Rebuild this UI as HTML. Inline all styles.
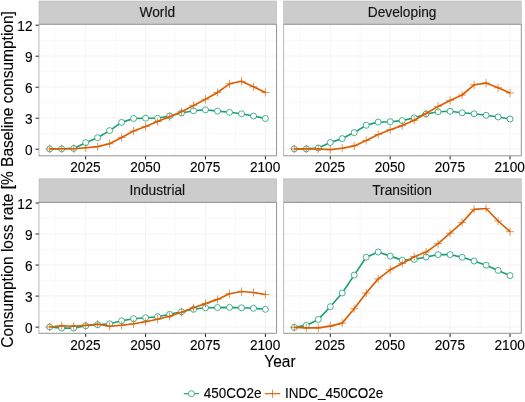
<!DOCTYPE html>
<html lang="en">
<head>
<meta charset="utf-8">
<title>Consumption loss rate</title>
<style>
html,body{margin:0;padding:0;background:#fff;}
body{width:525px;height:402px;overflow:hidden;}
svg{display:block;}
text{font-family:"Liberation Sans",Arial,Helvetica,sans-serif;fill:#000;stroke:#000;stroke-width:0.12px;}
.ax{font-size:13.65px;}
.ti{font-size:15.5px;}
.lg{font-size:13.5px;}
.st{font-size:13.75px;fill:#111;stroke:#111;}
</style>
</head>
<body>
<svg width="525" height="402" viewBox="0 0 525 402">
<rect x="0" y="0" width="525" height="402" fill="#ffffff"/>

<g>
<rect x="39.0" y="1.0" width="237.6" height="23.3" fill="#CCCCCC" stroke="#B0B0B0" stroke-width="0.5"/>
<text class="st" transform="translate(157.3 17.4) scale(1 1.04)" text-anchor="middle">World</text>
<rect x="39.0" y="24.3" width="237.6" height="131.5" fill="#ffffff"/>
<line x1="55.7" x2="55.7" y1="24.3" y2="155.8" stroke="#F4F4F4" stroke-width="0.55"/>
<line x1="115.6" x2="115.6" y1="24.3" y2="155.8" stroke="#F4F4F4" stroke-width="0.55"/>
<line x1="175.6" x2="175.6" y1="24.3" y2="155.8" stroke="#F4F4F4" stroke-width="0.55"/>
<line x1="235.5" x2="235.5" y1="24.3" y2="155.8" stroke="#F4F4F4" stroke-width="0.55"/>
<line x1="39.0" x2="276.6" y1="133.5" y2="133.5" stroke="#F4F4F4" stroke-width="0.55"/>
<line x1="39.0" x2="276.6" y1="102.5" y2="102.5" stroke="#F4F4F4" stroke-width="0.55"/>
<line x1="39.0" x2="276.6" y1="71.5" y2="71.5" stroke="#F4F4F4" stroke-width="0.55"/>
<line x1="39.0" x2="276.6" y1="40.5" y2="40.5" stroke="#F4F4F4" stroke-width="0.55"/>
<line x1="85.7" x2="85.7" y1="24.3" y2="155.8" stroke="#EEEEEE" stroke-width="0.65"/>
<line x1="145.6" x2="145.6" y1="24.3" y2="155.8" stroke="#EEEEEE" stroke-width="0.65"/>
<line x1="205.5" x2="205.5" y1="24.3" y2="155.8" stroke="#EEEEEE" stroke-width="0.65"/>
<line x1="265.4" x2="265.4" y1="24.3" y2="155.8" stroke="#EEEEEE" stroke-width="0.65"/>
<line x1="39.0" x2="276.6" y1="149.0" y2="149.0" stroke="#EEEEEE" stroke-width="0.65"/>
<line x1="39.0" x2="276.6" y1="118.0" y2="118.0" stroke="#EEEEEE" stroke-width="0.65"/>
<line x1="39.0" x2="276.6" y1="87.0" y2="87.0" stroke="#EEEEEE" stroke-width="0.65"/>
<line x1="39.0" x2="276.6" y1="56.0" y2="56.0" stroke="#EEEEEE" stroke-width="0.65"/>
<polyline points="49.7,148.9 61.7,148.9 73.7,148.4 85.7,142.7 97.6,137.7 109.6,130.6 121.6,122.4 133.6,118.5 145.6,118.2 157.6,118.3 169.6,116.0 181.5,113.0 193.5,110.8 205.5,109.8 217.5,111.1 229.5,112.3 241.5,113.8 253.5,116.0 265.4,118.5" fill="none" stroke="#1B9E77" stroke-width="1.65" stroke-linejoin="round" stroke-linecap="butt"/>
<circle cx="49.7" cy="148.9" r="3.0" fill="#ffffff" stroke="#1B9E77" stroke-width="0.8"/>
<circle cx="61.7" cy="148.9" r="3.0" fill="#ffffff" stroke="#1B9E77" stroke-width="0.8"/>
<circle cx="73.7" cy="148.4" r="3.0" fill="#ffffff" stroke="#1B9E77" stroke-width="0.8"/>
<circle cx="85.7" cy="142.7" r="3.0" fill="#ffffff" stroke="#1B9E77" stroke-width="0.8"/>
<circle cx="97.6" cy="137.7" r="3.0" fill="#ffffff" stroke="#1B9E77" stroke-width="0.8"/>
<circle cx="109.6" cy="130.6" r="3.0" fill="#ffffff" stroke="#1B9E77" stroke-width="0.8"/>
<circle cx="121.6" cy="122.4" r="3.0" fill="#ffffff" stroke="#1B9E77" stroke-width="0.8"/>
<circle cx="133.6" cy="118.5" r="3.0" fill="#ffffff" stroke="#1B9E77" stroke-width="0.8"/>
<circle cx="145.6" cy="118.2" r="3.0" fill="#ffffff" stroke="#1B9E77" stroke-width="0.8"/>
<circle cx="157.6" cy="118.3" r="3.0" fill="#ffffff" stroke="#1B9E77" stroke-width="0.8"/>
<circle cx="169.6" cy="116.0" r="3.0" fill="#ffffff" stroke="#1B9E77" stroke-width="0.8"/>
<circle cx="181.5" cy="113.0" r="3.0" fill="#ffffff" stroke="#1B9E77" stroke-width="0.8"/>
<circle cx="193.5" cy="110.8" r="3.0" fill="#ffffff" stroke="#1B9E77" stroke-width="0.8"/>
<circle cx="205.5" cy="109.8" r="3.0" fill="#ffffff" stroke="#1B9E77" stroke-width="0.8"/>
<circle cx="217.5" cy="111.1" r="3.0" fill="#ffffff" stroke="#1B9E77" stroke-width="0.8"/>
<circle cx="229.5" cy="112.3" r="3.0" fill="#ffffff" stroke="#1B9E77" stroke-width="0.8"/>
<circle cx="241.5" cy="113.8" r="3.0" fill="#ffffff" stroke="#1B9E77" stroke-width="0.8"/>
<circle cx="253.5" cy="116.0" r="3.0" fill="#ffffff" stroke="#1B9E77" stroke-width="0.8"/>
<circle cx="265.4" cy="118.5" r="3.0" fill="#ffffff" stroke="#1B9E77" stroke-width="0.8"/>
<polyline points="49.7,148.9 61.7,148.7 73.7,148.7 85.7,147.7 97.6,146.6 109.6,143.8 121.6,137.4 133.6,131.0 145.6,126.5 157.6,121.6 169.6,116.8 181.5,111.8 193.5,105.4 205.5,99.2 217.5,92.5 229.5,83.8 241.5,81.3 253.5,86.8 265.4,92.5" fill="none" stroke="#D95F02" stroke-width="1.65" stroke-linejoin="round" stroke-linecap="butt"/>
<path d="M45.6 148.9H53.8M49.7 144.8V153.0M57.6 148.7H65.8M61.7 144.6V152.8M69.6 148.7H77.8M73.7 144.6V152.8M81.6 147.7H89.8M85.7 143.6V151.8M93.5 146.6H101.7M97.6 142.5V150.7M105.5 143.8H113.7M109.6 139.7V147.9M117.5 137.4H125.7M121.6 133.3V141.5M129.5 131.0H137.7M133.6 126.9V135.1M141.5 126.5H149.7M145.6 122.4V130.6M153.5 121.6H161.7M157.6 117.5V125.7M165.5 116.8H173.7M169.6 112.7V120.9M177.4 111.8H185.6M181.5 107.7V115.9M189.4 105.4H197.6M193.5 101.3V109.5M201.4 99.2H209.6M205.5 95.1V103.3M213.4 92.5H221.6M217.5 88.4V96.6M225.4 83.8H233.6M229.5 79.7V87.9M237.4 81.3H245.6M241.5 77.2V85.4M249.4 86.8H257.6M253.5 82.7V90.9M261.3 92.5H269.5M265.4 88.4V96.6" fill="none" stroke="#D95F02" stroke-width="0.65"/>
<path d="M38.95 24.30H276.55V155.80H38.95" fill="none" stroke="#7F7F7F" stroke-width="0.85"/>
<path d="M38.95 24.30V156.20" fill="none" stroke="#7F7F7F" stroke-width="0.55"/>
<line x1="85.7" x2="85.7" y1="156.3" y2="159.4" stroke="#1a1a1a" stroke-width="1"/>
<text class="ax" transform="translate(85.4 172.2) scale(1 1.04)" text-anchor="middle">2025</text>
<line x1="145.6" x2="145.6" y1="156.3" y2="159.4" stroke="#1a1a1a" stroke-width="1"/>
<text class="ax" transform="translate(145.3 172.2) scale(1 1.04)" text-anchor="middle">2050</text>
<line x1="205.5" x2="205.5" y1="156.3" y2="159.4" stroke="#1a1a1a" stroke-width="1"/>
<text class="ax" transform="translate(205.2 172.2) scale(1 1.04)" text-anchor="middle">2075</text>
<line x1="265.4" x2="265.4" y1="156.3" y2="159.4" stroke="#1a1a1a" stroke-width="1"/>
<text class="ax" transform="translate(265.1 172.2) scale(1 1.04)" text-anchor="middle">2100</text>
<line x1="35.6" x2="38.7" y1="149.2" y2="149.2" stroke="#1a1a1a" stroke-width="1"/>
<text class="ax" transform="translate(32.5 154.6) scale(1 1.04)" text-anchor="end">0</text>
<line x1="35.6" x2="38.7" y1="118.2" y2="118.2" stroke="#1a1a1a" stroke-width="1"/>
<text class="ax" transform="translate(32.5 123.6) scale(1 1.04)" text-anchor="end">3</text>
<line x1="35.6" x2="38.7" y1="87.2" y2="87.2" stroke="#1a1a1a" stroke-width="1"/>
<text class="ax" transform="translate(32.5 92.6) scale(1 1.04)" text-anchor="end">6</text>
<line x1="35.6" x2="38.7" y1="56.2" y2="56.2" stroke="#1a1a1a" stroke-width="1"/>
<text class="ax" transform="translate(32.5 61.6) scale(1 1.04)" text-anchor="end">9</text>
<line x1="35.6" x2="38.7" y1="25.2" y2="25.2" stroke="#1a1a1a" stroke-width="1"/>
<text class="ax" transform="translate(32.5 30.6) scale(1 1.04)" text-anchor="end">12</text>
</g>
<g>
<rect x="283.6" y="1.0" width="237.7" height="23.3" fill="#CCCCCC" stroke="#B0B0B0" stroke-width="0.5"/>
<text class="st" transform="translate(402.1 17.4) scale(1 1.04)" text-anchor="middle">Developing</text>
<rect x="283.6" y="24.3" width="237.7" height="131.5" fill="#ffffff"/>
<line x1="300.3" x2="300.3" y1="24.3" y2="155.8" stroke="#F4F4F4" stroke-width="0.55"/>
<line x1="360.2" x2="360.2" y1="24.3" y2="155.8" stroke="#F4F4F4" stroke-width="0.55"/>
<line x1="420.2" x2="420.2" y1="24.3" y2="155.8" stroke="#F4F4F4" stroke-width="0.55"/>
<line x1="480.1" x2="480.1" y1="24.3" y2="155.8" stroke="#F4F4F4" stroke-width="0.55"/>
<line x1="283.6" x2="521.3" y1="133.5" y2="133.5" stroke="#F4F4F4" stroke-width="0.55"/>
<line x1="283.6" x2="521.3" y1="102.5" y2="102.5" stroke="#F4F4F4" stroke-width="0.55"/>
<line x1="283.6" x2="521.3" y1="71.5" y2="71.5" stroke="#F4F4F4" stroke-width="0.55"/>
<line x1="283.6" x2="521.3" y1="40.5" y2="40.5" stroke="#F4F4F4" stroke-width="0.55"/>
<line x1="330.3" x2="330.3" y1="24.3" y2="155.8" stroke="#EEEEEE" stroke-width="0.65"/>
<line x1="390.2" x2="390.2" y1="24.3" y2="155.8" stroke="#EEEEEE" stroke-width="0.65"/>
<line x1="450.1" x2="450.1" y1="24.3" y2="155.8" stroke="#EEEEEE" stroke-width="0.65"/>
<line x1="510.0" x2="510.0" y1="24.3" y2="155.8" stroke="#EEEEEE" stroke-width="0.65"/>
<line x1="283.6" x2="521.3" y1="149.0" y2="149.0" stroke="#EEEEEE" stroke-width="0.65"/>
<line x1="283.6" x2="521.3" y1="118.0" y2="118.0" stroke="#EEEEEE" stroke-width="0.65"/>
<line x1="283.6" x2="521.3" y1="87.0" y2="87.0" stroke="#EEEEEE" stroke-width="0.65"/>
<line x1="283.6" x2="521.3" y1="56.0" y2="56.0" stroke="#EEEEEE" stroke-width="0.65"/>
<polyline points="294.3,148.9 306.3,148.9 318.3,148.0 330.3,142.5 342.2,138.6 354.2,132.6 366.2,125.3 378.2,122.1 390.2,121.7 402.2,120.6 414.2,117.8 426.1,114.0 438.1,111.8 450.1,111.3 462.1,112.8 474.1,113.8 486.1,115.3 498.1,117.0 510.0,119.0" fill="none" stroke="#1B9E77" stroke-width="1.65" stroke-linejoin="round" stroke-linecap="butt"/>
<circle cx="294.3" cy="148.9" r="3.0" fill="#ffffff" stroke="#1B9E77" stroke-width="0.8"/>
<circle cx="306.3" cy="148.9" r="3.0" fill="#ffffff" stroke="#1B9E77" stroke-width="0.8"/>
<circle cx="318.3" cy="148.0" r="3.0" fill="#ffffff" stroke="#1B9E77" stroke-width="0.8"/>
<circle cx="330.3" cy="142.5" r="3.0" fill="#ffffff" stroke="#1B9E77" stroke-width="0.8"/>
<circle cx="342.2" cy="138.6" r="3.0" fill="#ffffff" stroke="#1B9E77" stroke-width="0.8"/>
<circle cx="354.2" cy="132.6" r="3.0" fill="#ffffff" stroke="#1B9E77" stroke-width="0.8"/>
<circle cx="366.2" cy="125.3" r="3.0" fill="#ffffff" stroke="#1B9E77" stroke-width="0.8"/>
<circle cx="378.2" cy="122.1" r="3.0" fill="#ffffff" stroke="#1B9E77" stroke-width="0.8"/>
<circle cx="390.2" cy="121.7" r="3.0" fill="#ffffff" stroke="#1B9E77" stroke-width="0.8"/>
<circle cx="402.2" cy="120.6" r="3.0" fill="#ffffff" stroke="#1B9E77" stroke-width="0.8"/>
<circle cx="414.2" cy="117.8" r="3.0" fill="#ffffff" stroke="#1B9E77" stroke-width="0.8"/>
<circle cx="426.1" cy="114.0" r="3.0" fill="#ffffff" stroke="#1B9E77" stroke-width="0.8"/>
<circle cx="438.1" cy="111.8" r="3.0" fill="#ffffff" stroke="#1B9E77" stroke-width="0.8"/>
<circle cx="450.1" cy="111.3" r="3.0" fill="#ffffff" stroke="#1B9E77" stroke-width="0.8"/>
<circle cx="462.1" cy="112.8" r="3.0" fill="#ffffff" stroke="#1B9E77" stroke-width="0.8"/>
<circle cx="474.1" cy="113.8" r="3.0" fill="#ffffff" stroke="#1B9E77" stroke-width="0.8"/>
<circle cx="486.1" cy="115.3" r="3.0" fill="#ffffff" stroke="#1B9E77" stroke-width="0.8"/>
<circle cx="498.1" cy="117.0" r="3.0" fill="#ffffff" stroke="#1B9E77" stroke-width="0.8"/>
<circle cx="510.0" cy="119.0" r="3.0" fill="#ffffff" stroke="#1B9E77" stroke-width="0.8"/>
<polyline points="294.3,148.9 306.3,148.9 318.3,148.9 330.3,149.6 342.2,148.2 354.2,145.9 366.2,140.4 378.2,134.5 390.2,129.7 402.2,125.6 414.2,120.2 426.1,113.5 438.1,106.4 450.1,100.4 462.1,95.0 474.1,84.8 486.1,83.1 498.1,87.8 510.0,93.0" fill="none" stroke="#D95F02" stroke-width="1.65" stroke-linejoin="round" stroke-linecap="butt"/>
<path d="M290.2 148.9H298.4M294.3 144.8V153.0M302.2 148.9H310.4M306.3 144.8V153.0M314.2 148.9H322.4M318.3 144.8V153.0M326.2 149.6H334.4M330.3 145.5V153.7M338.1 148.2H346.3M342.2 144.1V152.3M350.1 145.9H358.3M354.2 141.8V150.0M362.1 140.4H370.3M366.2 136.3V144.5M374.1 134.5H382.3M378.2 130.4V138.6M386.1 129.7H394.3M390.2 125.6V133.8M398.1 125.6H406.3M402.2 121.5V129.7M410.1 120.2H418.3M414.2 116.1V124.3M422.0 113.5H430.2M426.1 109.4V117.6M434.0 106.4H442.2M438.1 102.3V110.5M446.0 100.4H454.2M450.1 96.3V104.5M458.0 95.0H466.2M462.1 90.9V99.1M470.0 84.8H478.2M474.1 80.7V88.9M482.0 83.1H490.2M486.1 79.0V87.2M494.0 87.8H502.2M498.1 83.7V91.9M505.9 93.0H514.1M510.0 88.9V97.1" fill="none" stroke="#D95F02" stroke-width="0.65"/>
<path d="M283.60 24.30H521.30V155.80H283.60" fill="none" stroke="#7F7F7F" stroke-width="0.85"/>
<path d="M283.60 24.30V156.20" fill="none" stroke="#7F7F7F" stroke-width="0.55"/>
<line x1="330.3" x2="330.3" y1="156.3" y2="159.4" stroke="#1a1a1a" stroke-width="1"/>
<text class="ax" transform="translate(330.0 172.2) scale(1 1.04)" text-anchor="middle">2025</text>
<line x1="390.2" x2="390.2" y1="156.3" y2="159.4" stroke="#1a1a1a" stroke-width="1"/>
<text class="ax" transform="translate(389.9 172.2) scale(1 1.04)" text-anchor="middle">2050</text>
<line x1="450.1" x2="450.1" y1="156.3" y2="159.4" stroke="#1a1a1a" stroke-width="1"/>
<text class="ax" transform="translate(449.8 172.2) scale(1 1.04)" text-anchor="middle">2075</text>
<line x1="510.0" x2="510.0" y1="156.3" y2="159.4" stroke="#1a1a1a" stroke-width="1"/>
<text class="ax" transform="translate(509.7 172.2) scale(1 1.04)" text-anchor="middle">2100</text>
</g>
<g>
<rect x="39.0" y="178.8" width="237.6" height="23.6" fill="#CCCCCC" stroke="#B0B0B0" stroke-width="0.5"/>
<text class="st" transform="translate(157.3 195.2) scale(1 1.04)" text-anchor="middle">Industrial</text>
<rect x="39.0" y="202.4" width="237.6" height="130.9" fill="#ffffff"/>
<line x1="55.7" x2="55.7" y1="202.4" y2="333.3" stroke="#F4F4F4" stroke-width="0.55"/>
<line x1="115.6" x2="115.6" y1="202.4" y2="333.3" stroke="#F4F4F4" stroke-width="0.55"/>
<line x1="175.6" x2="175.6" y1="202.4" y2="333.3" stroke="#F4F4F4" stroke-width="0.55"/>
<line x1="235.5" x2="235.5" y1="202.4" y2="333.3" stroke="#F4F4F4" stroke-width="0.55"/>
<line x1="39.0" x2="276.6" y1="311.5" y2="311.5" stroke="#F4F4F4" stroke-width="0.55"/>
<line x1="39.0" x2="276.6" y1="280.4" y2="280.4" stroke="#F4F4F4" stroke-width="0.55"/>
<line x1="39.0" x2="276.6" y1="249.4" y2="249.4" stroke="#F4F4F4" stroke-width="0.55"/>
<line x1="39.0" x2="276.6" y1="218.3" y2="218.3" stroke="#F4F4F4" stroke-width="0.55"/>
<line x1="85.7" x2="85.7" y1="202.4" y2="333.3" stroke="#EEEEEE" stroke-width="0.65"/>
<line x1="145.6" x2="145.6" y1="202.4" y2="333.3" stroke="#EEEEEE" stroke-width="0.65"/>
<line x1="205.5" x2="205.5" y1="202.4" y2="333.3" stroke="#EEEEEE" stroke-width="0.65"/>
<line x1="265.4" x2="265.4" y1="202.4" y2="333.3" stroke="#EEEEEE" stroke-width="0.65"/>
<line x1="39.0" x2="276.6" y1="327.0" y2="327.0" stroke="#EEEEEE" stroke-width="0.65"/>
<line x1="39.0" x2="276.6" y1="295.9" y2="295.9" stroke="#EEEEEE" stroke-width="0.65"/>
<line x1="39.0" x2="276.6" y1="264.9" y2="264.9" stroke="#EEEEEE" stroke-width="0.65"/>
<line x1="39.0" x2="276.6" y1="233.9" y2="233.9" stroke="#EEEEEE" stroke-width="0.65"/>
<polyline points="49.7,327.0 61.7,328.1 73.7,328.1 85.7,325.8 97.6,324.7 109.6,323.8 121.6,320.8 133.6,318.8 145.6,317.8 157.6,316.7 169.6,314.3 181.5,311.8 193.5,309.3 205.5,307.8 217.5,307.6 229.5,307.4 241.5,307.8 253.5,308.3 265.4,309.3" fill="none" stroke="#1B9E77" stroke-width="1.65" stroke-linejoin="round" stroke-linecap="butt"/>
<circle cx="49.7" cy="327.0" r="3.0" fill="#ffffff" stroke="#1B9E77" stroke-width="0.8"/>
<circle cx="61.7" cy="328.1" r="3.0" fill="#ffffff" stroke="#1B9E77" stroke-width="0.8"/>
<circle cx="73.7" cy="328.1" r="3.0" fill="#ffffff" stroke="#1B9E77" stroke-width="0.8"/>
<circle cx="85.7" cy="325.8" r="3.0" fill="#ffffff" stroke="#1B9E77" stroke-width="0.8"/>
<circle cx="97.6" cy="324.7" r="3.0" fill="#ffffff" stroke="#1B9E77" stroke-width="0.8"/>
<circle cx="109.6" cy="323.8" r="3.0" fill="#ffffff" stroke="#1B9E77" stroke-width="0.8"/>
<circle cx="121.6" cy="320.8" r="3.0" fill="#ffffff" stroke="#1B9E77" stroke-width="0.8"/>
<circle cx="133.6" cy="318.8" r="3.0" fill="#ffffff" stroke="#1B9E77" stroke-width="0.8"/>
<circle cx="145.6" cy="317.8" r="3.0" fill="#ffffff" stroke="#1B9E77" stroke-width="0.8"/>
<circle cx="157.6" cy="316.7" r="3.0" fill="#ffffff" stroke="#1B9E77" stroke-width="0.8"/>
<circle cx="169.6" cy="314.3" r="3.0" fill="#ffffff" stroke="#1B9E77" stroke-width="0.8"/>
<circle cx="181.5" cy="311.8" r="3.0" fill="#ffffff" stroke="#1B9E77" stroke-width="0.8"/>
<circle cx="193.5" cy="309.3" r="3.0" fill="#ffffff" stroke="#1B9E77" stroke-width="0.8"/>
<circle cx="205.5" cy="307.8" r="3.0" fill="#ffffff" stroke="#1B9E77" stroke-width="0.8"/>
<circle cx="217.5" cy="307.6" r="3.0" fill="#ffffff" stroke="#1B9E77" stroke-width="0.8"/>
<circle cx="229.5" cy="307.4" r="3.0" fill="#ffffff" stroke="#1B9E77" stroke-width="0.8"/>
<circle cx="241.5" cy="307.8" r="3.0" fill="#ffffff" stroke="#1B9E77" stroke-width="0.8"/>
<circle cx="253.5" cy="308.3" r="3.0" fill="#ffffff" stroke="#1B9E77" stroke-width="0.8"/>
<circle cx="265.4" cy="309.3" r="3.0" fill="#ffffff" stroke="#1B9E77" stroke-width="0.8"/>
<polyline points="49.7,327.0 61.7,325.8 73.7,326.3 85.7,325.4 97.6,324.2 109.6,326.3 121.6,325.2 133.6,323.8 145.6,321.7 157.6,319.2 169.6,316.3 181.5,312.3 193.5,307.8 205.5,303.6 217.5,299.4 229.5,293.7 241.5,291.5 253.5,292.5 265.4,294.5" fill="none" stroke="#D95F02" stroke-width="1.65" stroke-linejoin="round" stroke-linecap="butt"/>
<path d="M45.6 327.0H53.8M49.7 322.9V331.1M57.6 325.8H65.8M61.7 321.7V329.9M69.6 326.3H77.8M73.7 322.2V330.4M81.6 325.4H89.8M85.7 321.3V329.5M93.5 324.2H101.7M97.6 320.1V328.3M105.5 326.3H113.7M109.6 322.2V330.4M117.5 325.2H125.7M121.6 321.1V329.3M129.5 323.8H137.7M133.6 319.7V327.9M141.5 321.7H149.7M145.6 317.6V325.8M153.5 319.2H161.7M157.6 315.1V323.3M165.5 316.3H173.7M169.6 312.2V320.4M177.4 312.3H185.6M181.5 308.2V316.4M189.4 307.8H197.6M193.5 303.7V311.9M201.4 303.6H209.6M205.5 299.5V307.7M213.4 299.4H221.6M217.5 295.3V303.5M225.4 293.7H233.6M229.5 289.6V297.8M237.4 291.5H245.6M241.5 287.4V295.6M249.4 292.5H257.6M253.5 288.4V296.6M261.3 294.5H269.5M265.4 290.4V298.6" fill="none" stroke="#D95F02" stroke-width="0.65"/>
<path d="M38.95 202.40H276.55V333.30H38.95" fill="none" stroke="#7F7F7F" stroke-width="0.85"/>
<path d="M38.95 202.40V333.70" fill="none" stroke="#7F7F7F" stroke-width="0.55"/>
<line x1="85.7" x2="85.7" y1="333.8" y2="336.9" stroke="#1a1a1a" stroke-width="1"/>
<text class="ax" transform="translate(85.4 349.7) scale(1 1.04)" text-anchor="middle">2025</text>
<line x1="145.6" x2="145.6" y1="333.8" y2="336.9" stroke="#1a1a1a" stroke-width="1"/>
<text class="ax" transform="translate(145.3 349.7) scale(1 1.04)" text-anchor="middle">2050</text>
<line x1="205.5" x2="205.5" y1="333.8" y2="336.9" stroke="#1a1a1a" stroke-width="1"/>
<text class="ax" transform="translate(205.2 349.7) scale(1 1.04)" text-anchor="middle">2075</text>
<line x1="265.4" x2="265.4" y1="333.8" y2="336.9" stroke="#1a1a1a" stroke-width="1"/>
<text class="ax" transform="translate(265.1 349.7) scale(1 1.04)" text-anchor="middle">2100</text>
<line x1="35.6" x2="38.7" y1="327.1" y2="327.1" stroke="#1a1a1a" stroke-width="1"/>
<text class="ax" transform="translate(32.5 332.9) scale(1 1.04)" text-anchor="end">0</text>
<line x1="35.6" x2="38.7" y1="296.1" y2="296.1" stroke="#1a1a1a" stroke-width="1"/>
<text class="ax" transform="translate(32.5 301.9) scale(1 1.04)" text-anchor="end">3</text>
<line x1="35.6" x2="38.7" y1="265.0" y2="265.0" stroke="#1a1a1a" stroke-width="1"/>
<text class="ax" transform="translate(32.5 270.8) scale(1 1.04)" text-anchor="end">6</text>
<line x1="35.6" x2="38.7" y1="234.0" y2="234.0" stroke="#1a1a1a" stroke-width="1"/>
<text class="ax" transform="translate(32.5 239.8) scale(1 1.04)" text-anchor="end">9</text>
<line x1="35.6" x2="38.7" y1="203.0" y2="203.0" stroke="#1a1a1a" stroke-width="1"/>
<text class="ax" transform="translate(32.5 208.7) scale(1 1.04)" text-anchor="end">12</text>
</g>
<g>
<rect x="283.6" y="178.8" width="237.7" height="23.6" fill="#CCCCCC" stroke="#B0B0B0" stroke-width="0.5"/>
<text class="st" transform="translate(402.1 195.2) scale(1 1.04)" text-anchor="middle">Transition</text>
<rect x="283.6" y="202.4" width="237.7" height="130.9" fill="#ffffff"/>
<line x1="300.3" x2="300.3" y1="202.4" y2="333.3" stroke="#F4F4F4" stroke-width="0.55"/>
<line x1="360.2" x2="360.2" y1="202.4" y2="333.3" stroke="#F4F4F4" stroke-width="0.55"/>
<line x1="420.2" x2="420.2" y1="202.4" y2="333.3" stroke="#F4F4F4" stroke-width="0.55"/>
<line x1="480.1" x2="480.1" y1="202.4" y2="333.3" stroke="#F4F4F4" stroke-width="0.55"/>
<line x1="283.6" x2="521.3" y1="311.5" y2="311.5" stroke="#F4F4F4" stroke-width="0.55"/>
<line x1="283.6" x2="521.3" y1="280.4" y2="280.4" stroke="#F4F4F4" stroke-width="0.55"/>
<line x1="283.6" x2="521.3" y1="249.4" y2="249.4" stroke="#F4F4F4" stroke-width="0.55"/>
<line x1="283.6" x2="521.3" y1="218.3" y2="218.3" stroke="#F4F4F4" stroke-width="0.55"/>
<line x1="330.3" x2="330.3" y1="202.4" y2="333.3" stroke="#EEEEEE" stroke-width="0.65"/>
<line x1="390.2" x2="390.2" y1="202.4" y2="333.3" stroke="#EEEEEE" stroke-width="0.65"/>
<line x1="450.1" x2="450.1" y1="202.4" y2="333.3" stroke="#EEEEEE" stroke-width="0.65"/>
<line x1="510.0" x2="510.0" y1="202.4" y2="333.3" stroke="#EEEEEE" stroke-width="0.65"/>
<line x1="283.6" x2="521.3" y1="327.0" y2="327.0" stroke="#EEEEEE" stroke-width="0.65"/>
<line x1="283.6" x2="521.3" y1="295.9" y2="295.9" stroke="#EEEEEE" stroke-width="0.65"/>
<line x1="283.6" x2="521.3" y1="264.9" y2="264.9" stroke="#EEEEEE" stroke-width="0.65"/>
<line x1="283.6" x2="521.3" y1="233.9" y2="233.9" stroke="#EEEEEE" stroke-width="0.65"/>
<polyline points="294.3,327.4 306.3,325.4 318.3,319.4 330.3,306.7 342.2,293.0 354.2,275.1 366.2,257.2 378.2,252.0 390.2,256.1 402.2,260.1 414.2,259.4 426.1,257.0 438.1,254.6 450.1,254.6 462.1,257.3 474.1,261.0 486.1,265.2 498.1,270.4 510.0,275.6" fill="none" stroke="#1B9E77" stroke-width="1.65" stroke-linejoin="round" stroke-linecap="butt"/>
<circle cx="294.3" cy="327.4" r="3.0" fill="#ffffff" stroke="#1B9E77" stroke-width="0.8"/>
<circle cx="306.3" cy="325.4" r="3.0" fill="#ffffff" stroke="#1B9E77" stroke-width="0.8"/>
<circle cx="318.3" cy="319.4" r="3.0" fill="#ffffff" stroke="#1B9E77" stroke-width="0.8"/>
<circle cx="330.3" cy="306.7" r="3.0" fill="#ffffff" stroke="#1B9E77" stroke-width="0.8"/>
<circle cx="342.2" cy="293.0" r="3.0" fill="#ffffff" stroke="#1B9E77" stroke-width="0.8"/>
<circle cx="354.2" cy="275.1" r="3.0" fill="#ffffff" stroke="#1B9E77" stroke-width="0.8"/>
<circle cx="366.2" cy="257.2" r="3.0" fill="#ffffff" stroke="#1B9E77" stroke-width="0.8"/>
<circle cx="378.2" cy="252.0" r="3.0" fill="#ffffff" stroke="#1B9E77" stroke-width="0.8"/>
<circle cx="390.2" cy="256.1" r="3.0" fill="#ffffff" stroke="#1B9E77" stroke-width="0.8"/>
<circle cx="402.2" cy="260.1" r="3.0" fill="#ffffff" stroke="#1B9E77" stroke-width="0.8"/>
<circle cx="414.2" cy="259.4" r="3.0" fill="#ffffff" stroke="#1B9E77" stroke-width="0.8"/>
<circle cx="426.1" cy="257.0" r="3.0" fill="#ffffff" stroke="#1B9E77" stroke-width="0.8"/>
<circle cx="438.1" cy="254.6" r="3.0" fill="#ffffff" stroke="#1B9E77" stroke-width="0.8"/>
<circle cx="450.1" cy="254.6" r="3.0" fill="#ffffff" stroke="#1B9E77" stroke-width="0.8"/>
<circle cx="462.1" cy="257.3" r="3.0" fill="#ffffff" stroke="#1B9E77" stroke-width="0.8"/>
<circle cx="474.1" cy="261.0" r="3.0" fill="#ffffff" stroke="#1B9E77" stroke-width="0.8"/>
<circle cx="486.1" cy="265.2" r="3.0" fill="#ffffff" stroke="#1B9E77" stroke-width="0.8"/>
<circle cx="498.1" cy="270.4" r="3.0" fill="#ffffff" stroke="#1B9E77" stroke-width="0.8"/>
<circle cx="510.0" cy="275.6" r="3.0" fill="#ffffff" stroke="#1B9E77" stroke-width="0.8"/>
<polyline points="294.3,327.4 306.3,327.9 318.3,327.9 330.3,326.1 342.2,323.1 354.2,308.7 366.2,293.0 378.2,278.9 390.2,269.8 402.2,263.4 414.2,256.7 426.1,252.1 438.1,243.6 450.1,233.2 462.1,222.6 474.1,209.4 486.1,208.5 498.1,221.0 510.0,231.7" fill="none" stroke="#D95F02" stroke-width="1.65" stroke-linejoin="round" stroke-linecap="butt"/>
<path d="M290.2 327.4H298.4M294.3 323.3V331.5M302.2 327.9H310.4M306.3 323.8V332.0M314.2 327.9H322.4M318.3 323.8V332.0M326.2 326.1H334.4M330.3 322.0V330.2M338.1 323.1H346.3M342.2 319.0V327.2M350.1 308.7H358.3M354.2 304.6V312.8M362.1 293.0H370.3M366.2 288.9V297.1M374.1 278.9H382.3M378.2 274.8V283.0M386.1 269.8H394.3M390.2 265.7V273.9M398.1 263.4H406.3M402.2 259.3V267.5M410.1 256.7H418.3M414.2 252.6V260.8M422.0 252.1H430.2M426.1 248.0V256.2M434.0 243.6H442.2M438.1 239.5V247.7M446.0 233.2H454.2M450.1 229.1V237.3M458.0 222.6H466.2M462.1 218.5V226.7M470.0 209.4H478.2M474.1 205.3V213.5M482.0 208.5H490.2M486.1 204.4V212.6M494.0 221.0H502.2M498.1 216.9V225.1M505.9 231.7H514.1M510.0 227.6V235.8" fill="none" stroke="#D95F02" stroke-width="0.65"/>
<path d="M283.60 202.40H521.30V333.30H283.60" fill="none" stroke="#7F7F7F" stroke-width="0.85"/>
<path d="M283.60 202.40V333.70" fill="none" stroke="#7F7F7F" stroke-width="0.55"/>
<line x1="330.3" x2="330.3" y1="333.8" y2="336.9" stroke="#1a1a1a" stroke-width="1"/>
<text class="ax" transform="translate(330.0 349.7) scale(1 1.04)" text-anchor="middle">2025</text>
<line x1="390.2" x2="390.2" y1="333.8" y2="336.9" stroke="#1a1a1a" stroke-width="1"/>
<text class="ax" transform="translate(389.9 349.7) scale(1 1.04)" text-anchor="middle">2050</text>
<line x1="450.1" x2="450.1" y1="333.8" y2="336.9" stroke="#1a1a1a" stroke-width="1"/>
<text class="ax" transform="translate(449.8 349.7) scale(1 1.04)" text-anchor="middle">2075</text>
<line x1="510.0" x2="510.0" y1="333.8" y2="336.9" stroke="#1a1a1a" stroke-width="1"/>
<text class="ax" transform="translate(509.7 349.7) scale(1 1.04)" text-anchor="middle">2100</text>
</g>
<text class="ti" transform="translate(279.9 366.6) scale(1 1.04)" text-anchor="middle">Year</text>
<text class="ti" transform="translate(13.2 179.4) rotate(-90) scale(1 1.04)" text-anchor="middle">Consumption loss rate [% Baseline consumption]</text>
<line x1="183.7" x2="199.1" y1="393.7" y2="393.7" stroke="#1B9E77" stroke-width="1.15"/>
<circle cx="191.4" cy="393.7" r="3.0" fill="#ffffff" stroke="#1B9E77" stroke-width="0.8"/>
<text class="lg" transform="translate(203.8 398.4) scale(1 1.04)">450CO2e</text>
<line x1="264.8" x2="280.2" y1="393.7" y2="393.7" stroke="#D95F02" stroke-width="1.15"/>
<path d="M272.5 389.6V397.8" fill="none" stroke="#D95F02" stroke-width="0.7"/>
<text class="lg" transform="translate(285.0 398.4) scale(1 1.04)">INDC<tspan dy="-1.6">_</tspan><tspan dy="1.6">450CO2e</tspan></text>
</svg>
</body>
</html>
